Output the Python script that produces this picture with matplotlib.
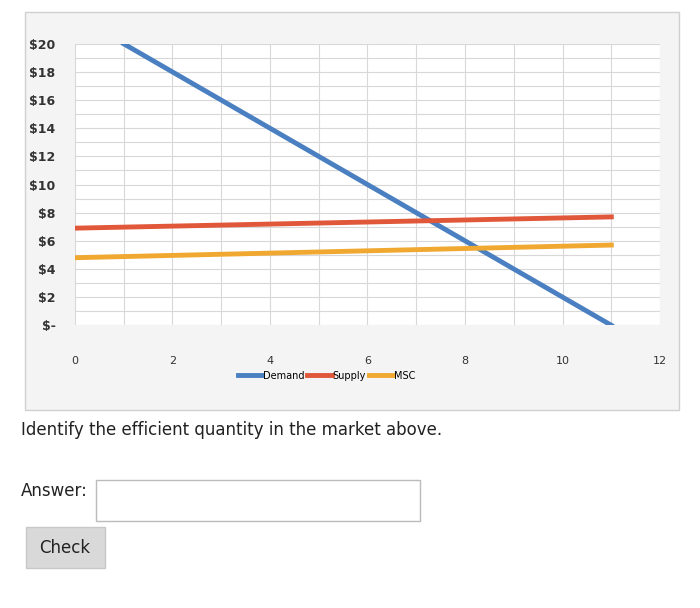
import numpy as np
import matplotlib.pyplot as plt
from matplotlib.patches import Rectangle

demand_q = [1, 11]
demand_p = [20, 0]
supply_q = [0, 11]
supply_p = [6.9, 7.7]
msc_q = [0, 11]
msc_p = [4.8, 5.7]
y_ticks = [0, 2, 4, 6, 8, 10, 12, 14, 16, 18, 20]
y_labels = ['$-', '$2', '$4', '$6', '$8', '$10', '$12', '$14', '$16', '$18', '$20']
x_ticks = [0, 2, 4, 6, 8, 10, 12]

fig = plt.figure(figsize=(7, 6.08), dpi=100)
fig.patch.set_facecolor('white')
# chart panel background
fig.patches.append(Rectangle((0.035, 0.325), 0.935, 0.655, transform=fig.transFigure,
                             facecolor='#f4f4f4', edgecolor='#d0d0d0', zorder=-2))

ax = fig.add_axes([0.107, 0.465, 0.836, 0.463])
ax.set_facecolor('white')
ax.set_xlim(0, 12)
ax.set_ylim(0, 20)
ax.set_yticks(y_ticks)
ax.set_yticklabels(y_labels, fontsize=9, fontweight='bold', color='#333333')
ax.set_xticks(x_ticks)
ax.set_xticklabels([str(t) for t in x_ticks], fontsize=8, color='#333333')
ax.set_yticks(np.arange(0, 21, 1), minor=True)
ax.set_xticks(np.arange(0, 12.01, 1), minor=True)
ax.grid(True, which='both', color='#d8d8d8', linewidth=0.8)
ax.tick_params(length=0, which='both')
ax.tick_params(axis='x', pad=22)
ax.tick_params(axis='y', pad=14)
for s in ax.spines.values():
    s.set_visible(False)

ax.plot(demand_q, demand_p, color='#4a7fc1', lw=3.5, label='Demand')
ax.plot(supply_q, supply_p, color='#e0573a', lw=3.5, label='Supply')
ax.plot(msc_q, msc_p, color='#f0a830', lw=3.5, label='MSC')
ax.legend(loc='upper center', bbox_to_anchor=(0.43, -0.13), ncol=3, frameon=False,
          fontsize=7, handlelength=2.5, columnspacing=0.3, handletextpad=0.1)

fig.text(0.03, 0.285, 'Identify the efficient quantity in the market above.',
         fontsize=12, color='#222222')
fig.text(0.03, 0.185, 'Answer:', fontsize=12, color='#222222')
fig.patches.append(Rectangle((0.137, 0.143), 0.463, 0.068, transform=fig.transFigure,
                             facecolor='white', edgecolor='#bbbbbb'))
fig.patches.append(Rectangle((0.037, 0.065), 0.113, 0.068, transform=fig.transFigure,
                             facecolor='#d9d9d9', edgecolor='#c8c8c8'))
fig.text(0.093, 0.099, 'Check', fontsize=12, color='#222222', ha='center', va='center')

fig.savefig('out.png', dpi=100)
